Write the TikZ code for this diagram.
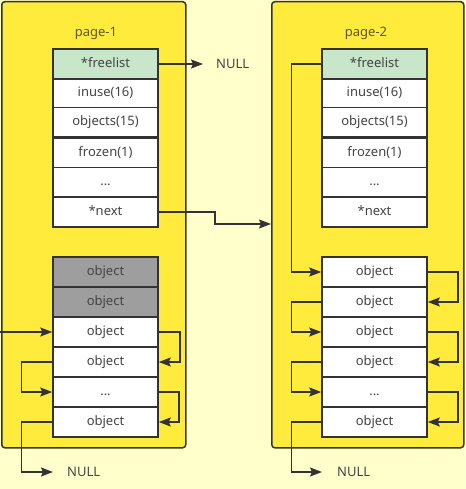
\documentclass[tikz,border=0pt]{standalone}
\usepackage{fontspec}
\setmainfont{Noto Sans}
\usetikzlibrary{arrows.meta,calc}
\definecolor{bgc}{HTML}{FFFFCC}
\definecolor{pagec}{HTML}{FFEB3B}
\definecolor{linec}{HTML}{333333}
\definecolor{greenc}{HTML}{C8E6C9}
\definecolor{grayc}{HTML}{9E9E9E}
\definecolor{txtc}{HTML}{444444}
\definecolor{labc}{HTML}{5E5518}
\begin{document}
\begin{tikzpicture}[x=1pt,y=-1pt,
  pagebox/.style={draw=linec,line width=1.5pt,fill=pagec,rounded corners=3pt,anchor=north west,inner sep=0pt},
  cell/.style={draw=linec,line width=1.5pt,fill=white,minimum width=105pt,inner sep=0pt,text height=9.5pt,text depth=2.5pt,text=txtc,font=\fontsize{13}{15}\selectfont},
  lab/.style={text=labc,font=\fontsize{13}{15}\selectfont,inner sep=0pt},
  nulltxt/.style={text=txtc,font=\fontsize{13}{15}\selectfont,inner sep=0pt,anchor=west},
  conn/.style={draw=linec,line width=1.5pt,-{Stealth[length=12pt,width=9pt,inset=2pt]}},
  plain/.style={draw=linec,line width=1.5pt}]
\useasboundingbox (0,0) rectangle (465,489);
\fill[bgc] (0,0) rectangle (465,489);
% pages
\node[pagebox,minimum width=184pt,minimum height=446pt] (pg1) at (1,1) {};
\node[pagebox,minimum width=192pt,minimum height=446pt] (pg2) at (271,1) {};
\node[lab] (l1) at (96,33) {page-1};
\node[lab] (l2) at (366,33) {page-2};
% headers
\foreach \p/\cx in {1/105.5,2/374.5}{
  \node[cell,fill=greenc,minimum height=30pt] (p\p free) at (\cx,64) {*freelist};
  \node[cell,minimum height=28.5pt] (p\p inuse) at (\cx,93.25) {inuse(16)};
  \node[cell,minimum height=29.5pt] (p\p objs) at (\cx,122.5) {objects(15)};
  \node[cell,minimum height=28.5pt] (p\p frozen) at (\cx,153) {frozen(1)};
  \node[cell,minimum height=29.5pt] (p\p dots) at (\cx,182.25) {...};
  \node[cell,minimum height=30pt] (p\p next) at (\cx,212) {*next};
}
% page-1 objects
\node[cell,fill=grayc,minimum height=30pt] (p1o1) at (105.5,272) {object};
\node[cell,fill=grayc,minimum height=30pt] (p1o2) at (105.5,302) {object};
\node[cell,minimum height=30pt] (p1o3) at (105.5,332) {object};
\node[cell,minimum height=30pt] (p1o4) at (105.5,362) {object};
\node[cell,minimum height=30pt] (p1o5) at (105.5,392) {...};
\node[cell,minimum height=30pt] (p1o6) at (105.5,422) {object};
% page-2 objects
\node[cell,minimum height=30pt] (p2o1) at (374.5,272) {object};
\node[cell,minimum height=30pt] (p2o2) at (374.5,302) {object};
\node[cell,minimum height=30pt] (p2o3) at (374.5,332) {object};
\node[cell,minimum height=30pt] (p2o4) at (374.5,362) {object};
\node[cell,minimum height=30pt] (p2o5) at (374.5,392) {...};
\node[cell,minimum height=30pt] (p2o6) at (374.5,422) {object};
% NULL labels
\node[nulltxt] (n0) at (216,64) {NULL};
\node[nulltxt] (n1) at (67,472) {NULL};
\node[nulltxt] (n2) at (337,472) {NULL};
\coordinate (n0a) at (203,64);
\coordinate (n1a) at (53,472);
\coordinate (n2a) at (322,472);
% connectors
\draw[conn] (p1free.east) -- (n0a);
\coordinate (in2) at (pg2.west |- 0,224);
\draw[conn] (p1next.east) -| ($(p1next.east)!.5!(in2)$) |- (in2);
\draw[conn] (p2free.west) -- ++(-30,0) |- (p2o1.west);
\coordinate (edge) at (0,332);
\draw[conn] (edge) -- (p1o3.west);
\draw[conn] (p1o3.east) -- ++(21,0) |- (p1o4.east);
\draw[conn] (p1o4.west) -- ++(-31,0) |- (p1o5.west);
\draw[conn] (p1o5.east) -- ++(20,0) |- (p1o6.east);
\draw[conn] (p1o6.west) -- ++(-31,0) |- (n1a);
\draw[conn] (p2o1.east) -- ++(30,0) |- (p2o2.east);
\draw[conn] (p2o2.west) -- ++(-30,0) |- (p2o3.west);
\draw[conn] (p2o3.east) -- ++(30,0) |- (p2o4.east);
\draw[conn] (p2o4.west) -- ++(-30,0) |- (p2o5.west);
\draw[conn] (p2o5.east) -- ++(30,0) |- (p2o6.east);
\draw[conn] (p2o6.west) -- ++(-30,0) |- (n2a);
\end{tikzpicture}
\end{document}
